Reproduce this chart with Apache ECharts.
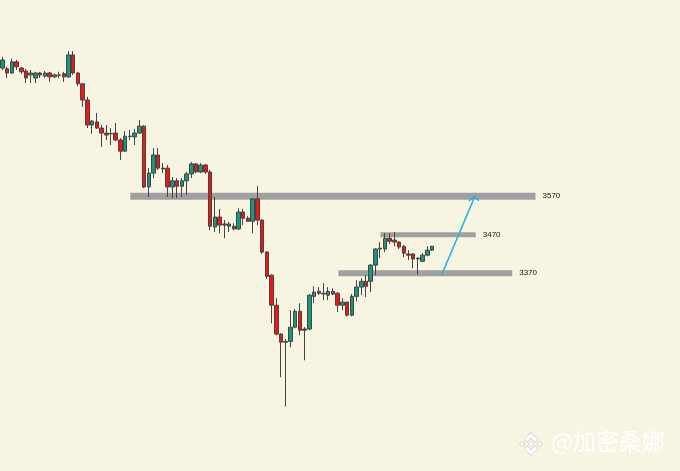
<!DOCTYPE html>
<html><head><meta charset="utf-8">
<script src="https://cdn.jsdelivr.net/npm/echarts@6/dist/echarts.min.js"></script>
<style>html,body{margin:0;padding:0;background:#f8f4e2}#c{width:680px;height:471px}</style>
</head><body><div id="c"></div>
<script>
// candle values (price units)
const opens  = [3903,3901,3890,3919,3903,3895,3885,3877,3890,3882,3890,3880,3885,3888,3880,3937,3890,3862,3820,3755,3763,3747,3734,3733,3734,3716,3687,3726,3724,3734,3752,3594,3630,3677,3643,3643,3594,3610,3596,3610,3628,3654,3633,3651,3633,3490,3516,3498,3492,3492,3485,3529,3513,3505,3563,3508,3425,3365,3287,3212,3193,3193,3230,3271,3225,3225,3310,3323,3318,3313,3323,3318,3287,3295,3261,3310,3334,3349,3349,3391,3435,3433,3461,3456,3451,3440,3420,3420,3409,3401,3417,3430];
const closes = [3924,3890,3919,3906,3893,3877,3890,3890,3885,3890,3880,3885,3884,3880,3937,3890,3862,3820,3755,3765,3747,3734,3729,3732,3716,3687,3726,3725,3734,3752,3594,3630,3677,3643,3641,3594,3610,3596,3610,3628,3654,3633,3651,3633,3492,3516,3495,3495,3498,3485,3529,3513,3505,3563,3508,3425,3362,3287,3212,3191,3191,3230,3271,3222,3222,3313,3321,3318,3316,3323,3316,3287,3295,3261,3310,3334,3349,3336,3391,3433,3433,3461,3453,3451,3438,3422,3417,3407,3407,3417,3430,3440];
const lows   = [3898,3877,3888,3898,3888,3864,3864,3864,3877,3877,3867,3877,3877,3867,3877,3885,3856,3802,3747,3732,3745,3698,3716,3703,3713,3664,3685,3716,3703,3732,3591,3568,3617,3638,3630,3568,3565,3565,3568,3573,3617,3630,3630,3628,3482,3477,3474,3461,3477,3482,3482,3495,3503,3474,3495,3420,3355,3240,3209,3100,3024,3178,3227,3209,3144,3222,3292,3313,3300,3300,3313,3269,3274,3258,3258,3297,3313,3308,3321,3365,3409,3425,3446,3440,3433,3412,3404,3383,3367,3399,3414,3428];
const highs  = [3932,3906,3927,3924,3906,3901,3898,3893,3893,3895,3893,3888,3893,3893,3947,3947,3893,3864,3828,3768,3786,3755,3755,3747,3760,3721,3739,3742,3745,3768,3755,3643,3695,3695,3656,3651,3620,3617,3617,3633,3659,3656,3656,3654,3638,3568,3537,3508,3503,3500,3539,3537,3518,3565,3596,3510,3427,3367,3305,3214,3199,3274,3277,3292,3230,3316,3336,3334,3344,3334,3331,3321,3305,3295,3316,3352,3357,3365,3394,3435,3451,3474,3474,3477,3453,3443,3430,3422,3412,3422,3440,3441];
const slotCount = 144;
const categories = Array.from({length: slotCount}, (_, i) => String(i + 1));

// horizontal levels
const levels = [3570, 3470, 3370];
const levelLabels = ['3570', '3470', '3370'];
const levelStart = [27.08, 80.07, 71.17];
const levelEnd = [112.9, 100.25, 107.97];

// arrow
const arrowShaftX = [93.0, 100.04];
const arrowShaftY = [3365, 3569];
const arrowHeadX = [98.78, 100.04, 100.9];
const arrowHeadY = [3558, 3569, 3558];

const watermark = '@加密桑娜';

const candleData = opens.map((o, i) => [o, closes[i], lows[i], highs[i]]);
const levelWidths = [7, 5, 6];

const levelSeries = levels.map((lv, k) => ({
  type: 'line', xAxisIndex: 1, yAxisIndex: 0, z: 1, silent: true,
  symbol: 'none',
  lineStyle: {color: '#a0a0a0', width: levelWidths[k]},
  endLabel: {show: true, distance: 7, formatter: levelLabels[k], color: '#111', fontSize: 8,
    fontFamily: 'Liberation Sans, Arial, sans-serif'},
  data: [[levelStart[k], lv], [levelEnd[k], lv]]
}));

const chart = echarts.init(document.getElementById('c'), null, {renderer: 'canvas'});
const cw = 4.756;
chart.setOption({
  backgroundColor: '#f8f4e2',
  animation: false,
  grid: {left: -3.18, top: 0, width: cw * slotCount, height: 471},
  xAxis: [
    {type: 'category', data: categories, show: false, boundaryGap: true},
    {type: 'value', min: -0.5, max: slotCount - 0.5, show: false}
  ],
  yAxis: {type: 'value', min: 2856.4, max: 4079.6, show: false, splitLine: {show: false}},
  series: [
    ...levelSeries,
    {
      type: 'candlestick', z: 3, barWidth: 4,
      data: candleData,
      itemStyle: {color: '#17977b', color0: '#f51414', borderColor: '#444', borderColor0: '#444', borderWidth: 1}
    },
    {
      type: 'line', xAxisIndex: 1, symbol: 'none', z: 4,
      lineStyle: {color: '#27b4d6', width: 1.5},
      data: arrowShaftX.map((x, i) => [x, arrowShaftY[i]])
    },
    {
      type: 'line', xAxisIndex: 1, symbol: 'none', z: 4,
      lineStyle: {color: '#27b4d6', width: 1.5},
      data: arrowHeadX.map((x, i) => [x, arrowHeadY[i]])
    }
  ],
  graphic: [
    {
      type: 'group', x: 519, y: 432,
      children: [
        {type: 'polygon', shape: {points: [[12,9.2],[14.8,12],[12,14.8],[9.2,12]]}, style: {fill: '#fff', stroke: '#c4c4c4', lineWidth: 0.8}},
        {type: 'polygon', shape: {points: [[0.4,12],[3.2,9.2],[6,12],[3.2,14.8]]}, style: {fill: '#fff', stroke: '#c4c4c4', lineWidth: 0.8}},
        {type: 'polygon', shape: {points: [[18,12],[20.8,9.2],[23.6,12],[20.8,14.8]]}, style: {fill: '#fff', stroke: '#c4c4c4', lineWidth: 0.8}},
        {type: 'polygon', shape: {points: [[12,0.4],[19,7.4],[16.2,10.2],[12,6],[7.8,10.2],[5,7.4]]}, style: {fill: '#fff', stroke: '#c4c4c4', lineWidth: 0.8}},
        {type: 'polygon', shape: {points: [[12,23.6],[19,16.6],[16.2,13.8],[12,18],[7.8,13.8],[5,16.6]]}, style: {fill: '#fff', stroke: '#c4c4c4', lineWidth: 0.8}}
      ]
    },
    {
      type: 'text', x: 551, y: 430,
      style: {text: watermark, font: '23px "Noto Sans CJK SC", sans-serif', fill: '#ffffff',
        shadowColor: 'rgba(0,0,0,0.35)', shadowBlur: 1.5, shadowOffsetX: 1, shadowOffsetY: 1}
    }
  ]
});
</script>
</body></html>
